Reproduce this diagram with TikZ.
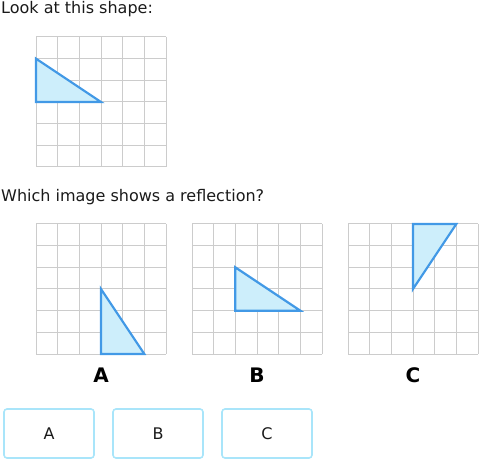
\documentclass[tikz,border=0pt]{standalone}
\usepackage{fontspec}
\setmainfont{DejaVu Sans}
\usepackage{tikz}
\definecolor{gridgray}{HTML}{CCCCCC}
\definecolor{triblue}{HTML}{4299E6}
\definecolor{trifill}{HTML}{CDEEFB}
\definecolor{btnblue}{HTML}{A9E5FA}
\definecolor{inkgray}{HTML}{1A1A1A}

\begin{document}
\begin{tikzpicture}[x=1pt,y=-1pt]
      \tikzstyle{gridline}=[draw=gridgray,line width=1pt]
      \tikzstyle{tri}=[draw=triblue,fill=trifill,line width=2.2pt,line join=miter]
      \tikzstyle{prompt}=[inner sep=0pt,anchor=base west,text=inkgray,font=\fontsize{16}{19}\selectfont]
      \tikzstyle{letter}=[inner sep=0pt,anchor=base,font=\fontsize{20}{24}\selectfont\bfseries]
      \tikzstyle{choice}=[rectangle,draw=btnblue,line width=1.6pt,rounded corners=3pt,minimum width=90pt,minimum height=49pt,inner sep=0pt,text=inkgray,font=\fontsize{16}{19}\selectfont]
      \useasboundingbox (0,0) rectangle (480,462);
      \node[prompt] (look) at (1,14) {Look at this shape:};
      % original shape
      \begin{scope}[shift={(36,37)},x=21.667pt,y=-21.667pt]
        \foreach \i in {0,...,6} {
          \draw[gridline] (\i,0) -- (\i,6);
          \draw[gridline] (0,\i) -- (6,\i);
        }
        \filldraw[tri] (0,1) -- (0,3) -- (3,3) -- cycle;
      \end{scope}
      \node[prompt] (which) at (1,202) {Which image shows a reflection?};
      % image A
      \begin{scope}[shift={(36,224)},x=21.667pt,y=-21.667pt]
        \foreach \i in {0,...,6} {
          \draw[gridline] (\i,0) -- (\i,6);
          \draw[gridline] (0,\i) -- (6,\i);
        }
        \filldraw[tri] (3,3) -- (3,6) -- (5,6) -- cycle;
      \end{scope}
      % image B
      \begin{scope}[shift={(192,224)},x=21.667pt,y=-21.667pt]
        \foreach \i in {0,...,6} {
          \draw[gridline] (\i,0) -- (\i,6);
          \draw[gridline] (0,\i) -- (6,\i);
        }
        \filldraw[tri] (2,2) -- (2,4) -- (5,4) -- cycle;
      \end{scope}
      % image C
      \begin{scope}[shift={(348,224)},x=21.667pt,y=-21.667pt]
        \foreach \i in {0,...,6} {
          \draw[gridline] (\i,0) -- (\i,6);
          \draw[gridline] (0,\i) -- (6,\i);
        }
        \filldraw[tri] (3,0) -- (5,0) -- (3,3) -- cycle;
      \end{scope}
      \node[letter] (labA) at (101,383) {A};
      \node[letter] (labB) at (257,383) {B};
      \node[letter] (labC) at (413,383) {C};
      \node[choice] (ansA) at (49,433.5) {A};
      \node[choice] (ansB) at (158,433.5) {B};
      \node[choice] (ansC) at (267,433.5) {C};
\end{tikzpicture}
\end{document}
